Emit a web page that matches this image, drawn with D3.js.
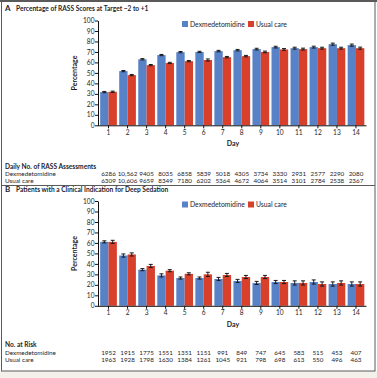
<!DOCTYPE html>
<html>
<head>
<meta charset="utf-8">
<script src="https://cdn.jsdelivr.net/npm/d3@7"></script>
<style>
  body { margin: 0; background: #fff; }
  svg text { font-family: Lato, "Open Sans", sans-serif; fill: #1d1d2b; }
</style>
</head>
<body>
<div id="chart-area"></div>
<script>
// data
var days = [1, 2, 3, 4, 5, 6, 7, 8, 9, 10, 11, 12, 13, 14];
var yTicks = [0, 10, 20, 30, 40, 50, 60, 70, 80, 90, 100];
var seriesNames = ["Dexmedetomidine", "Usual care"];

var rassDex = [31.7, 51.7, 63, 67, 69.8, 70, 70.8, 71.7, 72.7, 74.6, 73.6, 74.6, 77.4, 76.5];
var rassUsual = [32, 47.9, 57.4, 59.5, 61.2, 62.3, 65, 66, 70, 72.4, 72.7, 73.6, 73.6, 73.6];
var rassDexErr = [0.6, 0.6, 0.6, 0.6, 0.6, 0.6, 0.7, 0.7, 0.8, 0.8, 0.9, 0.9, 1, 1];
var rassUsualErr = [0.6, 0.6, 0.6, 0.6, 0.6, 1, 0.7, 0.7, 0.8, 0.8, 0.9, 0.9, 0.9, 1];
var rassCountDex = ["6286", "10,562", "9405", "8035", "6858", "5839", "5018", "4305", "3734", "3330", "2931", "2577", "2290", "2080"];
var rassCountUsual = ["6309", "10,606", "9659", "8349", "7180", "6202", "5364", "4672", "4064", "3514", "3101", "2784", "2538", "2367"];

var sedDex = [61, 48, 34.5, 29, 26.5, 26.5, 25.6, 23.7, 21.8, 22.7, 21.8, 22.7, 20.8, 20.8];
var sedUsual = [61, 49, 38, 33.5, 30.5, 30, 29.4, 27.5, 27.5, 22.7, 21.8, 20.8, 21.8, 20.8];
var sedDexErr = [1, 1.5, 1, 1.5, 1, 1, 1.5, 1.5, 1.5, 1.5, 2, 2, 2, 2];
var sedUsualErr = [1.5, 1.5, 1.5, 1, 1, 2, 1.5, 1.5, 1.5, 1.5, 2, 2, 2, 2];
var riskDex = ["1952", "1915", "1775", "1551", "1351", "1151", "991", "849", "747", "645", "583", "515", "453", "407"];
var riskUsual = ["1963", "1928", "1798", "1630", "1384", "1261", "1045", "921", "798", "698", "613", "550", "496", "463"];

var width = 377, height = 378;
var colors = ["#5882c8", "#d8402c"];

var svg = d3.select("#chart-area").append("svg")
    .attr("width", width)
    .attr("height", height);

// frame
svg.append("rect").attr("x", 0).attr("y", 371).attr("width", width).attr("height", 7).attr("fill", "#f4f0ea");
svg.append("rect").attr("x", 1.5).attr("y", 1.5).attr("width", 373.5).attr("height", 369.5)
    .attr("fill", "none").attr("stroke", "#5a5a5a").attr("stroke-width", 1);
svg.append("line").attr("x1", 0).attr("x2", width).attr("y1", 1).attr("y2", 1)
    .attr("stroke", "#5a5a5a").attr("stroke-width", 2);
svg.append("line").attr("x1", 1.5).attr("x2", 375).attr("y1", 185.5).attr("y2", 185.5)
    .attr("stroke", "#5a5a5a").attr("stroke-width", 1);

var x = d3.scaleBand().domain(days).range([99, 365.5]);
var xSub = d3.scaleBand().domain([0, 1]).range([0, x.bandwidth()]).paddingOuter(0.14);

drawPanel({
    top: 0, titleY: 11, letter: "A", title: "Percentage of RASS Scores at Target \u22122 to +1",
    dex: rassDex, usual: rassUsual, dexErr: rassDexErr, usualErr: rassUsualErr,
    tableTitle: "Daily No. of RASS Assessments", tableDex: rassCountDex, tableUsual: rassCountUsual,
    tableY: 168.5
});
drawPanel({
    top: 180.5, titleY: 192, letter: "B", title: "Patients with a Clinical Indication for Deep Sedation",
    dex: sedDex, usual: sedUsual, dexErr: sedDexErr, usualErr: sedUsualErr,
    tableTitle: "No. at Risk", tableDex: riskDex, tableUsual: riskUsual,
    tableY: 347
});

function drawPanel(p) {
    var g = svg.append("g");
    var y = d3.scaleLinear().domain([0, 100]).range([p.top + 125.3, p.top + 20.5]);

    g.append("text").attr("x", 5).attr("y", p.titleY)
        .style("font-size", "8px").style("font-weight", "bold").text(p.letter);
    g.append("text").attr("x", 16).attr("y", p.titleY)
        .style("font-size", "6.6px").style("font-weight", "bold").text(p.title);

    var bars = [];
    days.forEach(function(d, i) {
        bars.push({day: d, k: 0, v: p.dex[i], e: p.dexErr[i]});
        bars.push({day: d, k: 1, v: p.usual[i], e: p.usualErr[i]});
    });

    g.selectAll(".bar").data(bars).enter().append("rect")
        .attr("class", "bar")
        .attr("x", function(d) { return x(d.day) + xSub(d.k); })
        .attr("width", xSub.bandwidth())
        .attr("y", function(d) { return y(d.v); })
        .attr("height", function(d) { return y(0) - y(d.v); })
        .attr("fill", function(d) { return colors[d.k]; });

    // error bars
    function cx(d) { return x(d.day) + xSub(d.k) + xSub.bandwidth() / 2; }
    var eb = g.selectAll(".err").data(bars).enter().append("g").attr("class", "err")
        .attr("stroke", "#1a1a1a").attr("stroke-width", 1);
    eb.append("line")
        .attr("x1", cx).attr("x2", cx)
        .attr("y1", function(d) { return y(d.v - d.e); })
        .attr("y2", function(d) { return y(d.v + d.e); });
    [-1, 1].forEach(function(s) {
        eb.append("line")
            .attr("x1", function(d) { return cx(d) - 2; })
            .attr("x2", function(d) { return cx(d) + 2; })
            .attr("y1", function(d) { return y(d.v + s * d.e); })
            .attr("y2", function(d) { return y(d.v + s * d.e); });
    });

    // axes
    var yAxis = d3.axisLeft(y).tickValues(yTicks).tickSize(3).tickSizeOuter(0);
    var yAxisGroup = g.append("g").attr("transform", "translate(98,0)").call(yAxis);
    var xAxis = d3.axisBottom(x).tickSize(3).tickSizeOuter(0);
    var xAxisGroup = g.append("g").attr("transform", "translate(0," + y(0) + ")").call(xAxis);
    xAxisGroup.select(".domain").attr("d", "M98,0.5H366.5");
    [yAxisGroup, xAxisGroup].forEach(function(a) {
        a.selectAll("path, line").attr("stroke", "#111");
        a.selectAll("text").style("font-size", "6.6px").attr("fill", "#1d1d2b");
    });
    yAxisGroup.selectAll("text").attr("x", -3.5);
    xAxisGroup.selectAll("text").attr("y", 5);

    g.append("text").attr("transform", "translate(77," + (p.top + 73) + ") rotate(-90)")
        .attr("text-anchor", "middle").style("font-size", "7px").style("font-weight", "bold")
        .text("Percentage");
    g.append("text").attr("x", 233).attr("y", p.top + 146)
        .attr("text-anchor", "middle").style("font-size", "7px").style("font-weight", "bold")
        .text("Day");

    // legend
    var lx = [182, 248];
    seriesNames.forEach(function(name, k) {
        g.append("rect").attr("x", lx[k]).attr("y", p.top + 21).attr("width", 6).attr("height", 6)
            .attr("fill", colors[k]);
        g.append("text").attr("x", lx[k] + 8).attr("y", p.top + 26.5)
            .style("font-size", "6.8px").text(name);
    });

    // table under the chart
    g.append("text").attr("x", 5).attr("y", p.tableY)
        .style("font-size", "6.6px").style("font-weight", "bold").text(p.tableTitle);
    [p.tableDex, p.tableUsual].forEach(function(vals, k) {
        var ty = p.tableY + 7.5 + k * 7;
        g.append("text").attr("x", 5).attr("y", ty).style("font-size", "6.3px").text(seriesNames[k]);
        g.selectAll(".cell" + k).data(vals).enter().append("text")
            .attr("x", function(d, i) { return x(days[i]) + x.bandwidth() / 2; })
            .attr("y", ty)
            .attr("text-anchor", "middle")
            .style("font-size", "6.3px")
            .text(function(d) { return d; });
    });
}
</script>
</body>
</html>
